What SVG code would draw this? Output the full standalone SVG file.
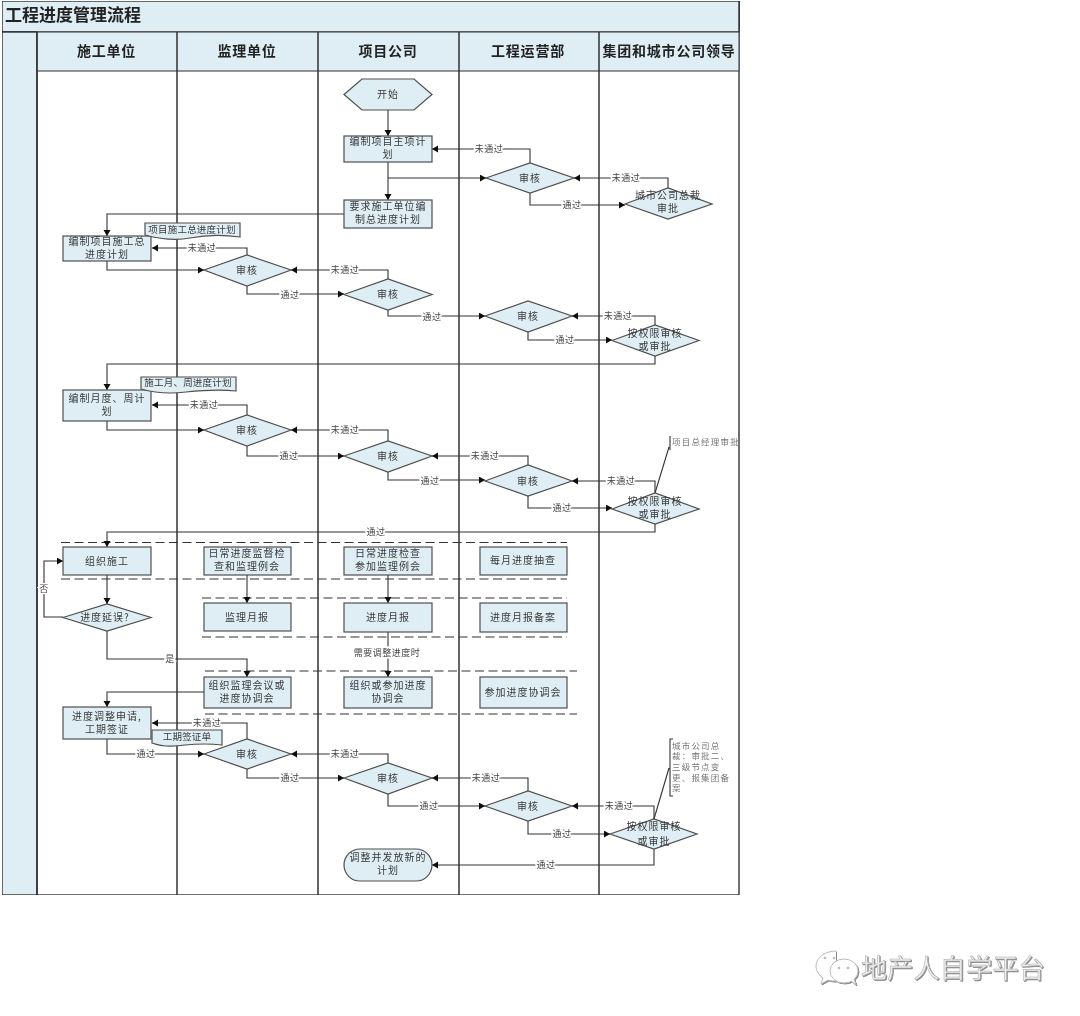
<svg xmlns="http://www.w3.org/2000/svg" width="1080" height="1016" viewBox="0 0 1080 1016">
<style>
text{font-family:"Noto Sans CJK SC","Noto Sans",sans-serif;fill:#3a3a3a;text-anchor:middle}
.n{fill:#deeef4;stroke:#4f4f4f;stroke-width:1.2}
.f{fill:#deeef4;stroke:#222;stroke-width:1.3}
.t{font-size:10px;letter-spacing:1px}
.h{font-size:14px;font-weight:700;letter-spacing:.8px;fill:#222}
.l{font-size:9px;letter-spacing:.5px;paint-order:stroke;stroke:#fff;stroke-width:3px;fill:#444}
.s{font-size:8.5px;letter-spacing:1.2px;text-anchor:start;fill:#777}
.c{fill:none;stroke:#333;stroke-width:1.1;marker-end:url(#a)}
.p{fill:none;stroke:#333;stroke-width:1.1}
.d{fill:none;stroke:#333;stroke-width:1.2;stroke-dasharray:9 4.5}
.w{fill:none;stroke:#333;stroke-width:1.5}
</style>
<defs>
<marker id="a" markerUnits="userSpaceOnUse" markerWidth="7" markerHeight="8" refX="6" refY="3.5" orient="auto"><path d="M0 0L6 3.5L0 7Z" fill="#111"/></marker>
<filter id="soft" x="0" y="0" width="100%" height="100%"><feGaussianBlur stdDeviation="0.3"/></filter>
<filter id="emb" x="-5%" y="-10%" width="110%" height="120%"><feDropShadow dx="1" dy="1" stdDeviation="0.5" flood-color="#888"/></filter>
</defs>
<rect width="1080" height="1016" fill="#fff"/>
<g filter="url(#soft)">
<g id="swimlanes">
<rect class="f" x="2" y="1" width="737" height="894" style="fill:#fff"/>
<rect class="f" x="2" y="1" width="737" height="31"/>
<rect class="f" x="2" y="32" width="35" height="863"/>
<rect class="n" x="37" y="32" width="702" height="39"/>
<path class="w" d="M37 32V895M177 32V895M318 32V895M459 32V895M599 32V895"/>
<text x="73" y="21" style="font-size:17px;font-weight:700;fill:#222">工程进度管理流程</text>
<text class="h" x="106.500" y="56">施工单位</text>
<text class="h" x="247" y="56">监理单位</text>
<text class="h" x="388" y="56">项目公司</text>
<text class="h" x="528" y="56">工程运营部</text>
<text class="h" x="669" y="56">集团和城市公司领导</text>
</g>
<g id="dashes">
<path class="d" d="M61 542.500H567M61 579H567M202 598H567M202 637H567M205 671H577M205 714H577"/>
</g>
<g id="connectors">
<path class="c" d="M388 110V136"/>
<path class="c" d="M388 162V200"/>
<path class="c" d="M388 178H486"/>
<path class="c" d="M530 163V149H432"/>
<path class="c" d="M530 193V205H625"/>
<path class="c" d="M668 188V178H574"/>
<path class="c" d="M344 214H107V236"/>
<path class="c" d="M107 261V270H204"/>
<path class="c" d="M247 255V248H152"/>
<path class="c" d="M247 286V294H344"/>
<path class="c" d="M388 279V270H291"/>
<path class="c" d="M388 310V316H485"/>
<path class="c" d="M528 332V340H612"/>
<path class="c" d="M655 325V316H572"/>
<path class="c" d="M655 356V364H107V390"/>
<path class="c" d="M107 421V430H204"/>
<path class="c" d="M247 415V405H152"/>
<path class="c" d="M247 446V456H344"/>
<path class="c" d="M388 441V430H291"/>
<path class="c" d="M388 472V480H485"/>
<path class="c" d="M528 465V456H432"/>
<path class="c" d="M528 496V508H612"/>
<path class="c" d="M655 493V481H572"/>
<path class="c" d="M655 524V532H107V547"/>
<path class="c" d="M107 575V604"/>
<path class="c" d="M63 617H44V561H63"/>
<path class="c" d="M107 631V659H247V677"/>
<path class="c" d="M247 575V603"/>
<path class="c" d="M388 575V603"/>
<path class="c" d="M388 632V677"/>
<path class="c" d="M204 692H107V707"/>
<path class="c" d="M107 739V754H204"/>
<path class="c" d="M247 739V723H152"/>
<path class="c" d="M247 769V778H344"/>
<path class="c" d="M388 763V754H291"/>
<path class="c" d="M388 794V806H485"/>
<path class="c" d="M528 791V778H432"/>
<path class="c" d="M528 821V834H610"/>
<path class="c" d="M654 819V806H572"/>
<path class="c" d="M654 849V865H432"/>
<path class="p" d="M655 493L669 447M670 436V450"/>
<path class="p" d="M654 819L669 768M673 739H670V796H673"/>
<text class="l" x="489" y="152">未通过</text>
<text class="l" x="572" y="208">通过</text>
<text class="l" x="626" y="181">未通过</text>
<text class="l" x="202" y="251">未通过</text>
<text class="l" x="290" y="298">通过</text>
<text class="l" x="345" y="273">未通过</text>
<text class="l" x="432" y="320">通过</text>
<text class="l" x="565" y="343">通过</text>
<text class="l" x="618" y="319">未通过</text>
<text class="l" x="204" y="408">未通过</text>
<text class="l" x="289" y="459">通过</text>
<text class="l" x="345" y="433">未通过</text>
<text class="l" x="430" y="484">通过</text>
<text class="l" x="485" y="459">未通过</text>
<text class="l" x="562" y="511">通过</text>
<text class="l" x="621" y="484">未通过</text>
<text class="l" x="376" y="535">通过</text>
<text class="l" x="44" y="592">否</text>
<text class="l" x="170" y="662">是</text>
<text class="l" x="387" y="656">需要调整进度时</text>
<text class="l" x="146" y="757">通过</text>
<text class="l" x="207" y="726">未通过</text>
<text class="l" x="290" y="781">通过</text>
<text class="l" x="345" y="757">未通过</text>
<text class="l" x="429" y="809">通过</text>
<text class="l" x="486" y="781">未通过</text>
<text class="l" x="562" y="837">通过</text>
<text class="l" x="619" y="809">未通过</text>
<text class="l" x="546" y="868">通过</text>
</g>
<g id="n-start"><path class="n" d="M344 94.500L362 79H414L432 94.500L414 110H362Z"/><text class="t" x="388" y="98">开始</text></g>
<g id="n-main-plan"><rect class="n" x="344" y="136" width="88" height="26"/><text class="t" x="388" y="145">编制项目主项计</text><text class="t" x="388" y="158">划</text></g>
<g id="n-require"><rect class="n" x="344" y="200" width="88" height="28"/><text class="t" x="388" y="210">要求施工单位编</text><text class="t" x="388" y="223">制总进度计划</text></g>
<g id="n-review-1"><path class="n" d="M486 178L530 163L574 178L530 193Z"/><text class="t" x="530" y="182">审核</text></g>
<g id="n-ceo"><path class="n" d="M625 204L668 188L712 204L668 219Z"/><text class="t" x="668" y="199">城市公司总裁</text><text class="t" x="668" y="212">审批</text></g>
<g id="n-build-plan"><rect class="n" x="63" y="236" width="88" height="25"/><text class="t" x="107" y="245">编制项目施工总</text><text class="t" x="107" y="258">进度计划</text></g>
<g id="n-doc-1"><path class="n" d="M145 223H240V237C220 234 200 236 190 238C175 241 160 239 145 235Z"/><text class="t" x="192" y="233" style="font-size:9.500px;letter-spacing:.2px">项目施工总进度计划</text></g>
<g id="n-review-2"><path class="n" d="M204 270L247 255L291 270L247 286Z"/><text class="t" x="247" y="274">审核</text></g>
<g id="n-review-3"><path class="n" d="M344 294.500L388 279L432 294.500L388 310Z"/><text class="t" x="388" y="298">审核</text></g>
<g id="n-review-4"><path class="n" d="M485 316L528 301L572 316L528 332Z"/><text class="t" x="528" y="320">审核</text></g>
<g id="n-auth-1"><path class="n" d="M612 340.500L655 325L699 340.500L655 356Z"/><text class="t" x="655" y="337">按权限审核</text><text class="t" x="655" y="350">或审批</text></g>
<g id="n-month-plan"><rect class="n" x="63" y="390" width="88" height="31"/><text class="t" x="107" y="402">编制月度、周计</text><text class="t" x="107" y="415">划</text></g>
<g id="n-doc-2"><path class="n" d="M141 377H236V391C216 389 196 391 186 392C170 394 155 393 141 389Z"/><text class="t" x="188" y="386" style="font-size:9.500px;letter-spacing:.2px">施工月、周进度计划</text></g>
<g id="n-review-5"><path class="n" d="M204 430L247 415L291 430L247 446Z"/><text class="t" x="247" y="434">审核</text></g>
<g id="n-review-6"><path class="n" d="M344 456L388 441L432 456L388 472Z"/><text class="t" x="388" y="460">审核</text></g>
<g id="n-review-7"><path class="n" d="M485 481L528 465L572 481L528 496Z"/><text class="t" x="528" y="485">审核</text></g>
<g id="n-auth-2"><path class="n" d="M612 509L655 493L699 509L655 524Z"/><text class="t" x="655" y="505">按权限审核</text><text class="t" x="655" y="518">或审批</text></g>
<g id="n-note-1"><text class="s" x="672" y="445">项目总经理审批</text></g>
<g id="n-construct"><rect class="n" x="63" y="547" width="88" height="28"/><text class="t" x="107" y="565">组织施工</text></g>
<g id="n-daily-sup"><rect class="n" x="204" y="547" width="87" height="28"/><text class="t" x="247" y="557">日常进度监督检</text><text class="t" x="247" y="570">查和监理例会</text></g>
<g id="n-daily-proj"><rect class="n" x="344" y="547" width="88" height="28"/><text class="t" x="388" y="557">日常进度检查</text><text class="t" x="388" y="570">参加监理例会</text></g>
<g id="n-monthly-check"><rect class="n" x="480" y="547" width="87" height="28"/><text class="t" x="523" y="564">每月进度抽查</text></g>
<g id="n-delay"><path class="n" d="M63 617.500L107 604L151 617.500L107 631Z"/><text class="t" x="105" y="621">进度延误?</text></g>
<g id="n-sup-report"><rect class="n" x="204" y="603" width="87" height="28"/><text class="t" x="247" y="621">监理月报</text></g>
<g id="n-report"><rect class="n" x="344" y="603" width="88" height="29"/><text class="t" x="388" y="621">进度月报</text></g>
<g id="n-report-file"><rect class="n" x="480" y="603" width="87" height="29"/><text class="t" x="523" y="621">进度月报备案</text></g>
<g id="n-sup-meeting"><rect class="n" x="204" y="677" width="87" height="31"/><text class="t" x="247" y="689">组织监理会议或</text><text class="t" x="247" y="702">进度协调会</text></g>
<g id="n-proj-meeting"><rect class="n" x="344" y="677" width="88" height="31"/><text class="t" x="388" y="689">组织或参加进度</text><text class="t" x="388" y="702">协调会</text></g>
<g id="n-ops-meeting"><rect class="n" x="480" y="677" width="87" height="31"/><text class="t" x="523" y="696">参加进度协调会</text></g>
<g id="n-adjust"><rect class="n" x="63" y="707" width="88" height="32"/><text class="t" x="107" y="720">进度调整申请,</text><text class="t" x="107" y="733">工期签证</text></g>
<g id="n-doc-3"><path class="n" d="M152 730H222V745C205 743 195 744 185 745C172 747 160 746 152 743Z"/><text class="t" x="187" y="740" style="font-size:9.500px;letter-spacing:.2px">工期签证单</text></g>
<g id="n-review-8"><path class="n" d="M204 754L247 739L291 754L247 769Z"/><text class="t" x="247" y="758">审核</text></g>
<g id="n-review-9"><path class="n" d="M344 778L388 763L432 778L388 794Z"/><text class="t" x="388" y="782">审核</text></g>
<g id="n-review-10"><path class="n" d="M485 806L528 791L572 806L528 821Z"/><text class="t" x="528" y="810">审核</text></g>
<g id="n-auth-3"><path class="n" d="M610 834L654 819L697 834L654 849Z"/><text class="t" x="654" y="830">按权限审核</text><text class="t" x="654" y="845">或审批</text></g>
<g id="n-note-2"><text class="s" x="672" y="749">城市公司总</text><text class="s" x="672" y="759">裁：审批二、</text><text class="s" x="672" y="770">三级节点变</text><text class="s" x="672" y="781">更、报集团备</text><text class="s" x="672" y="791">案</text></g>
<g id="n-end"><rect class="n" x="344" y="849" width="88" height="32" rx="16"/><text class="t" x="388" y="861">调整并发放新的</text><text class="t" x="388" y="874">计划</text></g>
</g>
<g id="watermark" filter="url(#emb)">
<path d="M836 951C826 951 816 957 816 966C816 971 819 975 823 978L821 984L828 980C831 981 833 981 836 981" fill="#fff" stroke="#bbb" stroke-width="1"/>
<ellipse cx="844" cy="971" rx="14" ry="12" fill="#fff" stroke="#bbb" stroke-width="1"/>
<path d="M851 981L856 985L854 979" fill="#fff" stroke="#bbb" stroke-width="1"/>
<circle cx="825" cy="958" r="1.300" fill="#bbb"/><circle cx="834" cy="958" r="1.300" fill="#bbb"/>
<circle cx="839" cy="968" r="1.300" fill="#bbb"/><circle cx="848" cy="968" r="1.300" fill="#bbb"/>
<text x="953" y="978" style="font-size:26px;letter-spacing:.3px;fill:#efefef;stroke:#aaa;stroke-width:.5">地产人自学平台</text>
</g>
</svg>
